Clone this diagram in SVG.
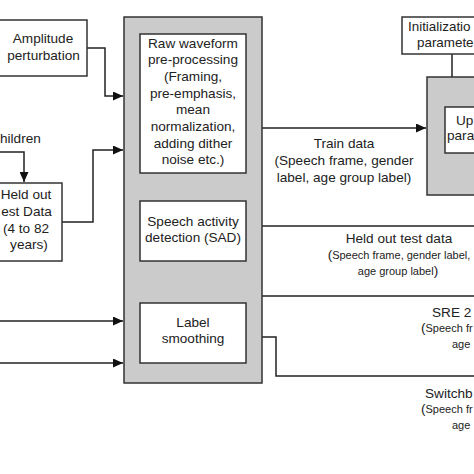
<svg xmlns="http://www.w3.org/2000/svg" width="474" height="474" viewBox="0 0 474 474">
<defs>
<style>
.box{fill:#fff;stroke:#333;stroke-width:1.5}
.gray{fill:#cbcbcb;stroke:#333;stroke-width:1.5}
.t{font-family:"Liberation Sans",Arial,sans-serif;font-size:13.6px;fill:#222}
.s{font-size:11px}
.c{text-anchor:middle}
.ln{fill:none;stroke:#222;stroke-width:1.5}
.ar{marker-end:url(#arr)}
</style>
<marker id="arr" markerUnits="userSpaceOnUse" markerWidth="11" markerHeight="9" refX="10" refY="4.5" orient="auto">
<path d="M0,0 L10,4.5 L0,9 z" fill="#111"/>
</marker>
</defs>
<rect width="474" height="474" fill="#fff"/>

<g id="connectors">
<path class="ln ar" d="M87,48 H105 V96 H123"/>
<path class="ln ar" d="M62,222 H93 V150 H123"/>
<path class="ln ar" d="M0,152 H24 V182"/>
<path class="ln ar" d="M0,321 H123"/>
<path class="ln ar" d="M0,363 H123"/>
<path class="ln ar" d="M193,173 V200"/>
<path class="ln ar" d="M262,128 H426"/>
<path class="ln" d="M452,54 V86 H474"/>
<path class="ln" d="M262,226 H474"/>
<path class="ln" d="M262,296 H474"/>
<path class="ln" d="M262,337 H276 V376 H474"/>
</g>

<g id="amplitude">
<rect class="box" x="-2" y="20" width="89" height="56"/>
<text class="t c" x="43" y="43">Amplitude</text>
<text class="t c" x="43.5" y="60">perturbation</text>
</g>

<g id="children">
<text class="t" x="0" y="143">hildren</text>
</g>

<g id="heldout-box">
<rect class="box" x="-2" y="183" width="64" height="78"/>
<text class="t c" x="26" y="199">Held out</text>
<text class="t c" x="26.5" y="216">est Data</text>
<text class="t c" x="26" y="233">(4 to 82</text>
<text class="t c" x="29" y="249">years)</text>
</g>

<g id="frontend">
<rect class="gray" x="124" y="17" width="138" height="366"/>
</g>

<g id="preprocessing">
<rect class="box" x="140" y="34" width="106" height="139"/>
<text class="t c" x="193" y="48">Raw waveform</text>
<text class="t c" x="193" y="64">pre-processing</text>
<text class="t c" x="193" y="81">(Framing,</text>
<text class="t c" x="193" y="98">pre-emphasis,</text>
<text class="t c" x="193" y="114">mean</text>
<text class="t c" x="193" y="131">normalization,</text>
<text class="t c" x="193" y="148">adding dither</text>
<text class="t c" x="193" y="164">noise etc.)</text>
</g>

<g id="sad">
<rect class="box" x="140" y="201" width="106" height="60"/>
<text class="t c" x="193" y="226">Speech activity</text>
<text class="t c" x="193" y="242">detection (SAD)</text>
</g>

<g id="smoothing">
<rect class="box" x="140" y="303" width="106" height="60"/>
<text class="t c" x="193" y="327">Label</text>
<text class="t c" x="193" y="343">smoothing</text>
</g>

<g id="train-label">
<text class="t c" x="344" y="148">Train data</text>
<text class="t c" x="344" y="165">(Speech frame, gender</text>
<text class="t c" x="344" y="182">label, age group label)</text>
</g>

<g id="init">
<rect class="box" x="402" y="17" width="80" height="37"/>
<text class="t" x="408" y="31" style="font-size:13.4px">Initializatio</text>
<text class="t" x="417" y="47" style="font-size:13.4px">paramete</text>
</g>

<g id="update">
<rect class="gray" x="427" y="77" width="60" height="118"/>
<rect class="box" x="445" y="107" width="40" height="46"/>
<text class="t" x="456" y="125">Up</text>
<text class="t" x="447" y="140">para</text>
</g>

<g id="heldout-label">
<text class="t c" x="399" y="243">Held out test data</text>
<text class="t c" x="399" y="259">(<tspan class="s">Speech frame, gender label,</tspan></text>
<text class="t c" x="398" y="275"><tspan class="s">age group label</tspan>)</text>
</g>

<g id="sre-label">
<text class="t" x="432" y="317">SRE 2</text>
<text class="t" x="421" y="332">(<tspan class="s">Speech fr</tspan></text>
<text class="t s" x="452" y="348">age</text>
</g>

<g id="switchboard-label">
<text class="t" x="425" y="398">Switchb</text>
<text class="t" x="421" y="413">(<tspan class="s">Speech fr</tspan></text>
<text class="t s" x="452" y="429">age</text>
</g>
</svg>
